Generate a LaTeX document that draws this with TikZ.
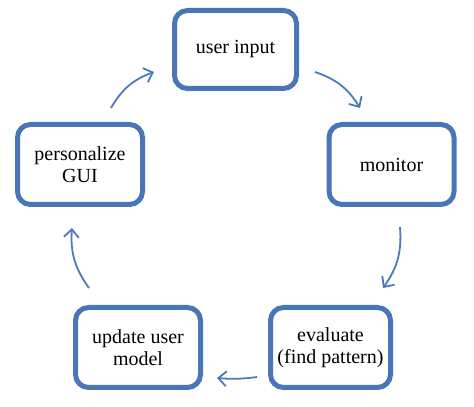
\documentclass[tikz,border=0pt]{standalone}
\usepackage{fontspec}
\setmainfont{Liberation Serif}
\usetikzlibrary{arrows.meta}
\definecolor{boxblue}{RGB}{72,118,183}
\definecolor{arrowblue}{RGB}{76,122,188}
\begin{document}
\begin{tikzpicture}[x=1pt,y=1pt,
  stepbox/.style={draw=boxblue, line width=5pt, rounded corners=13pt, fill=white,
    minimum width=125pt, minimum height=80pt, align=center, inner sep=2pt,
    font=\fontsize{20}{21.5}\selectfont},
  cyc/.style={draw=arrowblue, line width=1.8pt, bend left=20,
    -{Straight Barb[length=8pt,width=15pt,line width=1.8pt]}}]
\useasboundingbox (0,0) rectangle (474,407);
\node[stepbox, minimum width=122pt, minimum height=78pt] (ui) at (235.5,357.5) {user input};
\node[stepbox] (mon) at (391.5,242.5) {monitor};
\node[stepbox, minimum width=120pt] (ev) at (330.5,59.5) {evaluate\\(find pattern)};
\node[stepbox] (up) at (138,59.5) {update user\\model};
\node[stepbox] (pers) at (80,242.5) {personalize\\GUI};
\coordinate (a1s) at (315,335);
\coordinate (a1e) at (360,299);
\coordinate (a2s) at (400,180);
\coordinate (a2e) at (383,119);
\coordinate (a3s) at (257,30);
\coordinate (a3e) at (217,29);
\coordinate (a4s) at (89,119);
\coordinate (a4e) at (72,179);
\coordinate (a5s) at (111,299);
\coordinate (a5e) at (154,335);
\draw[cyc] (a1s) to (a1e);
\draw[cyc] (a2s) to (a2e);
\draw[cyc, bend left=6] (a3s) to (a3e);
\draw[cyc] (a4s) to (a4e);
\draw[cyc] (a5s) to (a5e);
\end{tikzpicture}
\end{document}
